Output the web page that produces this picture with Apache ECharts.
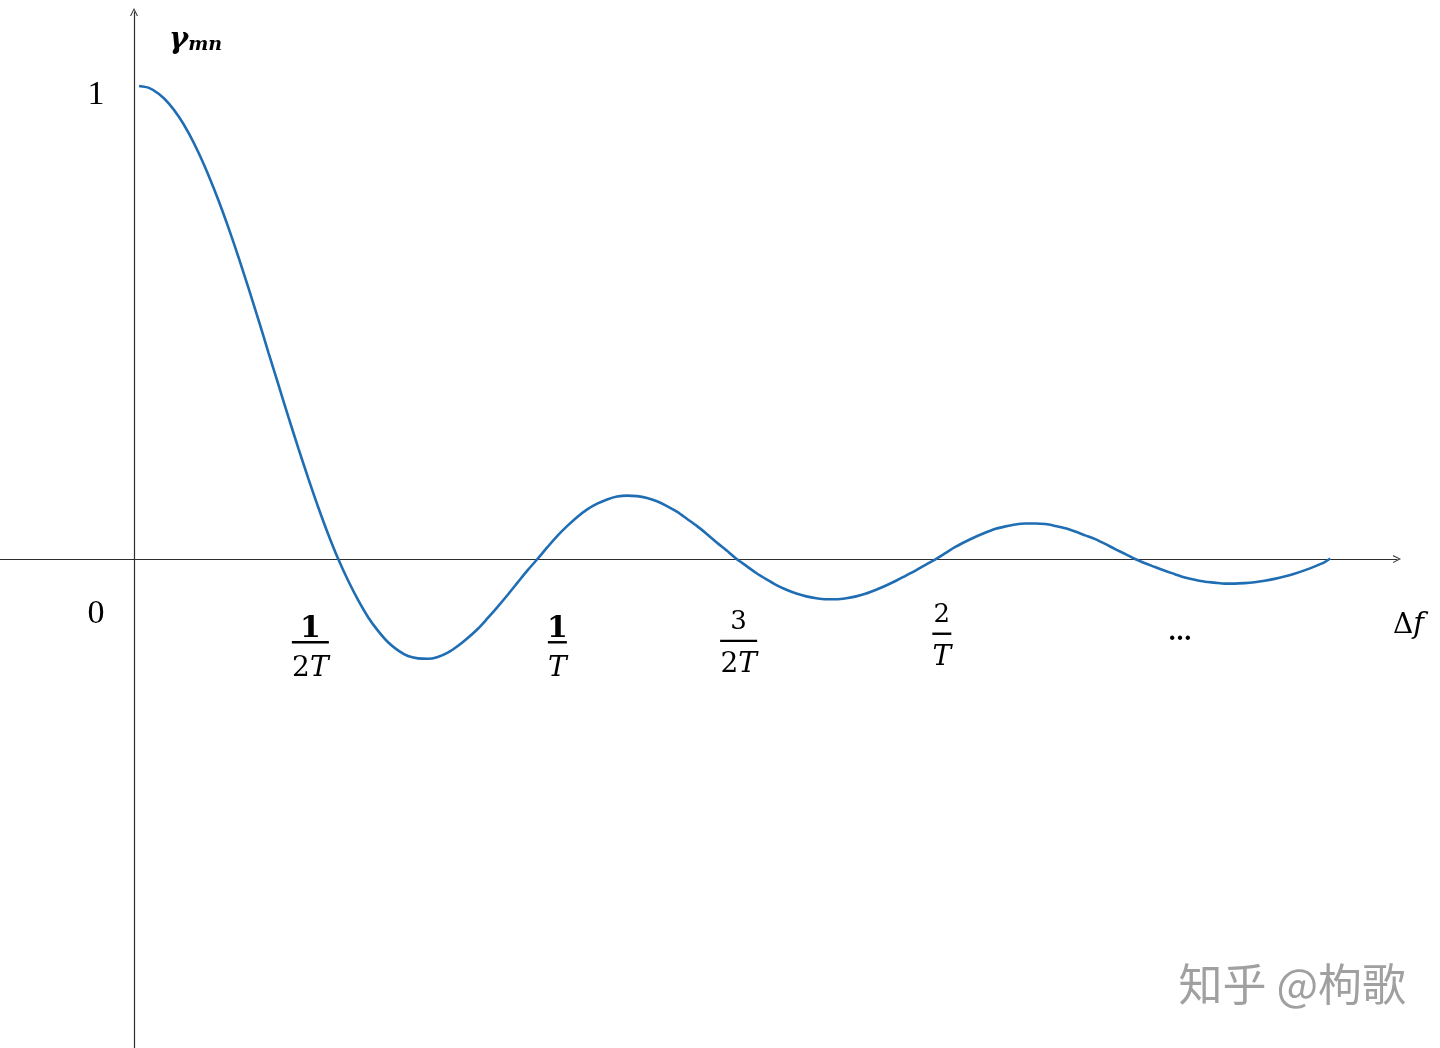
<!DOCTYPE html>
<html><head><meta charset="utf-8">
<script src="https://cdn.jsdelivr.net/npm/echarts@6/dist/echarts.min.js"></script>
<style>html,body{margin:0;padding:0;background:#fff}#c{width:1440px;height:1048px}</style>
</head><body><div id="c"></div>
<script>
// curve values (x in units of 1/(2T))
const curveX = [0,0.05,0.1,0.15,0.2,0.25,0.3,0.35,0.4,0.45,0.5,0.55,0.6,0.65,0.7,0.75,0.8,0.85,0.9,0.95,
  1.0,1.05,1.1,1.15,1.2,1.25,1.3,1.35,1.4,1.45,1.5,1.55,1.6,1.65,1.7,1.75,1.8,1.85,1.9,1.95,
  2.0,2.05,2.1,2.15,2.2,2.25,2.3,2.35,2.4,2.45,2.5,2.55,2.6,2.65,2.7,2.75,2.8,2.85,2.9,2.95,
  3.0,3.05,3.1,3.15,3.2,3.25,3.3,3.35,3.4,3.45,3.5,3.55,3.6,3.65,3.7,3.75,3.8,3.85,3.9,3.95,
  4.0,4.05,4.1,4.15,4.2,4.25,4.3,4.35,4.4,4.45,4.5,4.55,4.6,4.65,4.7,4.75,4.8,4.85,4.9,4.95,
  5.0,5.05,5.1,5.15,5.2,5.25,5.3,5.35,5.4,5.45,5.5,5.55,5.6,5.65,5.7,5.75,5.8,5.85,5.9,5.95,5.98];
const curveY = [1.000,0.996,0.983,0.963,0.935,0.900,0.858,0.810,0.757,0.699,0.637,0.572,0.505,0.436,0.368,0.300,0.234,0.170,0.109,0.052,
  0.000,-0.046,-0.087,-0.123,-0.152,-0.176,-0.193,-0.205,-0.210,-0.211,-0.207,-0.198,-0.184,-0.167,-0.148,-0.125,-0.101,-0.076,-0.050,-0.024,
  0.000,0.025,0.049,0.070,0.089,0.105,0.117,0.126,0.132,0.134,0.133,0.129,0.122,0.112,0.100,0.085,0.070,0.053,0.035,0.018,
  0.000,-0.015,-0.030,-0.043,-0.055,-0.065,-0.073,-0.079,-0.083,-0.085,-0.085,-0.083,-0.079,-0.073,-0.065,-0.056,-0.046,-0.035,-0.024,-0.012,
  0.000,0.013,0.026,0.037,0.047,0.056,0.064,0.069,0.073,0.075,0.075,0.074,0.070,0.065,0.058,0.050,0.042,0.032,0.021,0.011,
  0.000,-0.009,-0.017,-0.025,-0.032,-0.039,-0.044,-0.048,-0.050,-0.052,-0.052,-0.051,-0.049,-0.046,-0.042,-0.037,-0.031,-0.024,-0.016,-0.007,0.001];

// tick labels (fractions) on the Δf axis
const tickX = [0.86, 2.10, 3.01, 4.03];
const tickYPos = [-0.176, -0.176, -0.173, -0.158];
const tickNum = ['1', '1', '3', '2'];
const tickDen = ['2T', 'T', '2T', 'T'];
const tickNumBold = [true, true, false, false];

// other texts
const yTickText = ['1', '0'];
const yTickPos = [[-0.216, 0.981], [-0.216, -0.116]];
const yAxisTitle = ['γ', 'mn'];
const yAxisTitlePos = [0.151, 1.097];
const xAxisTitle = ['Δ', 'f'];
const xAxisTitlePos = [6.295, -0.140];
const ellipsisText = '…';
const ellipsisPos = [5.226, -0.159];
const watermark = '知乎 @枸歌';

const AX = '#2e2e2e';
const arrowPath = 'path://M0,10 L5,0 L10,10 L8.6,10 L5,2.6 L1.4,10 Z';

const chart = echarts.init(document.getElementById('c'));
const serif = '"Liberation Serif","DejaVu Serif",serif';
const mathFont = '"DejaVu Serif","Liberation Serif",serif';

const fracData = tickX.map((x, i) => [x, tickYPos[i], i]);

chart.setOption({
  animation: false,
  backgroundColor: '#fff',
  grid: { left: 0, right: 43, top: 12, bottom: 0, containLabel: false },
  xAxis: {
    type: 'value', min: -0.698, max: 6.315,
    axisLine: { onZero: true, lineStyle: { color: AX, width: 1.2 }, symbol: ['none', arrowPath], symbolSize: [10, 8] },
    axisTick: { show: false }, axisLabel: { show: false }, splitLine: { show: false }
  },
  yAxis: {
    type: 'value', min: -1.0338, max: 1.1565, offset: -134,
    axisLine: { onZero: false, lineStyle: { color: AX, width: 1.2 }, symbol: ['none', arrowPath], symbolSize: [10, 8] },
    axisTick: { show: false }, axisLabel: { show: false }, splitLine: { show: false }
  },
  series: [
    {
      type: 'line', data: curveX.map((x, i) => [x, curveY[i]]), smooth: 0.3,
      showSymbol: false, symbol: 'none', clip: false,
      lineStyle: { color: '#1f6db3', width: 2.6 }
    },
    {
      type: 'custom', data: fracData, clip: false, silent: true,
      renderItem: function (params, api) {
        const i = api.value(2);
        const p = api.coord([api.value(0), api.value(1)]);
        const den = tickDen[i];
        const bold = tickNumBold[i];
        const w = den.length === 2 ? 37 : 19;
        const numFont = bold ? 'bold 30px ' + mathFont : '26px ' + mathFont;
        const numY = bold ? p[1] + 2 : p[1] - 6;
        const denY = bold ? p[1] + 12 : p[1] + 10;
        const denParts = den.length === 2 ? [den[0], den[1]] : ['', den];
        return {
          type: 'group',
          children: [
            { type: 'text', style: { x: p[0], y: numY, text: tickNum[i], font: numFont, fill: '#000', align: 'center', verticalAlign: 'bottom' } },
            { type: 'line', shape: { x1: p[0] - w / 2, y1: p[1], x2: p[0] + w / 2, y2: p[1] }, style: { stroke: '#000', lineWidth: 2.4 } },
            { type: 'text', style: { x: p[0], y: denY, text: '{a|' + denParts[0] + '}{b|' + denParts[1] + '}', align: 'center', verticalAlign: 'top',
              rich: { a: { font: '28px ' + mathFont, fill: '#000' }, b: { font: 'italic 28px ' + mathFont, fill: '#000' } } } }
          ]
        };
      }
    }
  ]
});

function px(pt) { return chart.convertToPixel({ gridIndex: 0 }, pt); }
const g = [];
yTickText.forEach((t, i) => {
  const p = px(yTickPos[i]);
  g.push({ type: 'text', x: p[0], y: p[1], style: { text: t, font: '34px ' + serif, fill: '#000', align: 'center', verticalAlign: 'middle' } });
});
const tp = px(yAxisTitlePos);
g.push({ type: 'text', x: tp[0], y: tp[1], style: { text: '{g|' + yAxisTitle[0] + '}{s|' + yAxisTitle[1] + '}', align: 'left', verticalAlign: 'middle',
  rich: { g: { font: 'bold italic 29px ' + mathFont, fill: '#000' }, s: { font: 'bold italic 19px ' + mathFont, fill: '#000', padding: [10, 0, 0, 0] } } } });
const xp = px(xAxisTitlePos);
g.push({ type: 'text', x: xp[0], y: xp[1], style: { text: '{d|' + xAxisTitle[0] + '}{f|' + xAxisTitle[1] + '}', align: 'left', verticalAlign: 'middle',
  rich: { d: { font: '28px ' + mathFont, fill: '#000' }, f: { font: 'italic 29px ' + mathFont, fill: '#000' } } } });
const ep = px(ellipsisPos);
g.push({ type: 'text', x: ep[0], y: ep[1], style: { text: ellipsisText, font: 'bold 24px ' + mathFont, fill: '#000', align: 'center', verticalAlign: 'middle' } });
g.push({ type: 'text', right: 34, top: 962, style: { text: watermark, font: '44px "Noto Sans CJK SC", sans-serif', fill: '#a0a0a0',
  textShadowColor: 'rgba(90,90,90,0.35)', textShadowOffsetX: 1, textShadowOffsetY: 1, textShadowBlur: 0 } });
chart.setOption({ graphic: g });
</script>
</body></html>
